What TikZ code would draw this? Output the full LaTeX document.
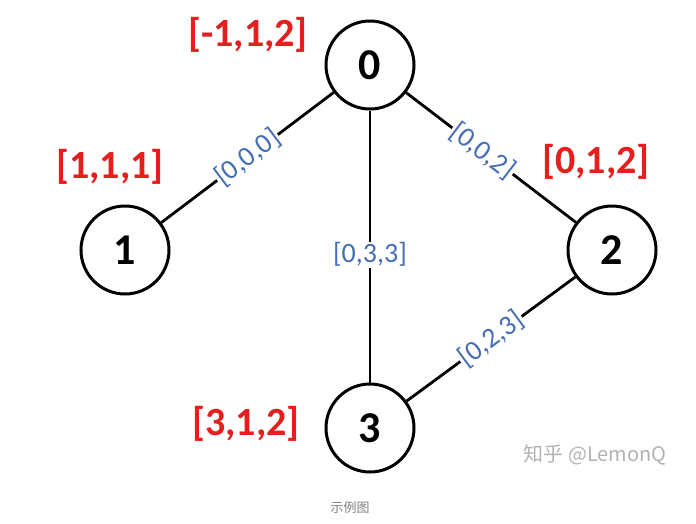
\documentclass[tikz,border=0pt]{standalone}
\usepackage{fontspec}
\setmainfont{Carlito}
\newfontfamily\cjk{Noto Sans CJK SC}
\begin{document}
\begin{tikzpicture}[x=1pt,y=-1pt,
  vert/.style={circle,draw,line width=3pt,minimum size=88pt,inner sep=0pt,font=\fontsize{44}{48}\selectfont\bfseries},
  red/.style={text={rgb,255:red,230;green,30;blue,30},font=\fontsize{40}{44}\selectfont\bfseries},
  elab/.style={fill=white,inner sep=1pt,text={rgb,255:red,70;green,110;blue,180},font=\fontsize{28}{32}\selectfont},
  edge/.style={line width=2.8pt}]
\useasboundingbox (0,0) rectangle (696,523);
\node[vert] (n0) at (370,65) {0};
\node[vert] (n1) at (125,250) {1};
\node[vert] (n2) at (612,250) {2};
\node[vert] (n3) at (370,428) {3};
\draw[edge] (n0) -- node[elab,sloped] {[0,0,0]} (n1);
\draw[edge] (n0) -- node[elab,sloped,pos=0.45] {[0,0,2]} (n2);
\draw[edge] (n0) -- node[elab,pos=0.53] {[0,3,3]} (n3);
\draw[edge] (n3) -- node[elab,sloped] {[0,2,3]} (n2);
\node[red] (l0) at (248,35) {[-1,1,2]};
\node[red] (l1) at (110,167) {[1,1,1]};
\node[red] (l2) at (596,162) {[0,1,2]};
\node[red] (l3) at (246,424) {[3,1,2]};
\node[text=gray!60,font=\cjk\fontsize{20}{24}\selectfont] (wm) at (595,455) {知乎 @LemonQ};
\node[text=gray,font=\cjk\fontsize{13}{16}\selectfont] (cap) at (350,508) {示例图};
\end{tikzpicture}
\end{document}
